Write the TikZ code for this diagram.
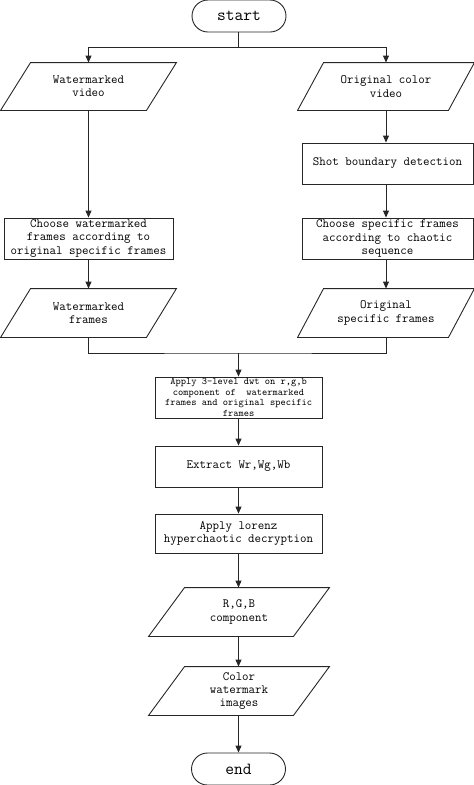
\documentclass[tikz,border=0pt]{standalone}
\usepackage{fontspec}
\usetikzlibrary{arrows.meta,calc}
\begin{document}
\begin{tikzpicture}[x=1pt,y=-1pt,
  line width=0.9pt, draw=black!85,
  >={Triangle[width=6pt,length=7pt]},
  txt/.style={font=\ttfamily\fontsize{12.6}{13.3}\selectfont, align=center, inner sep=0pt},
  smalltxt/.style={font=\ttfamily\fontsize{10}{10.6}\selectfont, align=center, inner sep=0pt},
  term/.style={txt, font=\ttfamily\fontsize{17}{18}\selectfont, draw, rounded corners=16pt, minimum width=94pt, minimum height=32pt},
  procbox/.style={txt, draw, minimum height=41pt},
  iobody/.style={txt, minimum height=47pt},
  flow/.style={->, line width=0.9pt, draw=black!85}
]
\useasboundingbox (0,0) rectangle (474,785);

\newcommand\drawpara[2]{%
  \draw[line width=0.9pt, black!85] ([xshift=#2pt]#1.north west) -- ([xshift=#2pt]#1.north east)
     -- ([xshift=-#2pt]#1.south east) -- ([xshift=-#2pt]#1.south west) -- cycle;}

% nodes
\node[term] (start) at (239,16) {start};
\node[iobody, minimum width=145pt] (wv) at (88.5,86.5) {Watermarked\\video};
\node[iobody, minimum width=150pt] (ov) at (386,86.5) {Original color\\video};
\node[procbox, minimum width=171pt] (sbd) at (387.5,163.5) {Shot boundary detection};
\node[procbox, minimum width=169pt] (cwf) at (88.5,238.5) {Choose watermarked\\frames according to\\original specific frames};
\node[procbox, minimum width=171pt] (csf) at (387.5,238.5) {Choose specific frames\\according to chaotic\\sequence};
\node[iobody, minimum width=145pt, minimum height=48pt] (wf) at (88.5,313) {Watermarked\\frames};
\node[iobody, minimum width=150pt, minimum height=48pt] (osf) at (386,313) {Original\\specific frames};
\node[procbox, smalltxt, minimum width=167pt] (dwt) at (238.5,397.5) {Apply 3-level dwt on r,g,b\\component of~ watermarked\\frames and original specific\\frames};
\node[procbox, minimum width=167pt] (ext) at (238.5,466.5) {Extract Wr,Wg,Wb};
\node[procbox, minimum width=167pt, minimum height=39pt] (lor) at (238.5,533.5) {Apply lorenz\\hyperchaotic decryption};
\node[iobody, minimum width=144pt, minimum height=48pt] (rgb) at (239,612) {R,G,B\\component};
\node[iobody, minimum width=144pt, minimum height=48pt] (cwi) at (239,691) {Color\\watermark\\images};
\node[term] (end) at (238.5,769) {end};

\drawpara{wv}{15}
\drawpara{ov}{13}
\drawpara{wf}{15}
\drawpara{osf}{13}
\drawpara{rgb}{18}
\drawpara{cwi}{18}

% connectors
\coordinate (split) at (238.5,47);
\coordinate (merge) at (238.5,353);
\draw (start.south -| split) -- (split);
\draw[flow] (split) -| (wv.north);
\draw[flow] (split) -| (ov.north);
\draw[flow] (wv.south) -- (cwf.north);
\draw[flow] (ov.south) -- (ov.south |- sbd.north);
\draw[flow] (sbd.south -| ov.south) -- (ov.south |- csf.north);
\draw[flow] (csf.south -| ov.south) -- (osf.north);
\draw[flow] (cwf.south) -- (wf.north);
\draw (wf.south) |- (merge) -| (osf.south);
\draw[flow] (merge) -- (dwt.north);
\draw[flow] (dwt.south) -- (ext.north);
\draw[flow] (ext.south) -- (lor.north);
\draw[flow] (lor.south) -- (lor.south |- rgb.north);
\draw[flow] (rgb.south -| lor.south) -- (lor.south |- cwi.north);
\draw[flow] (cwi.south -| lor.south) -- (end.north);
\end{tikzpicture}
\end{document}
